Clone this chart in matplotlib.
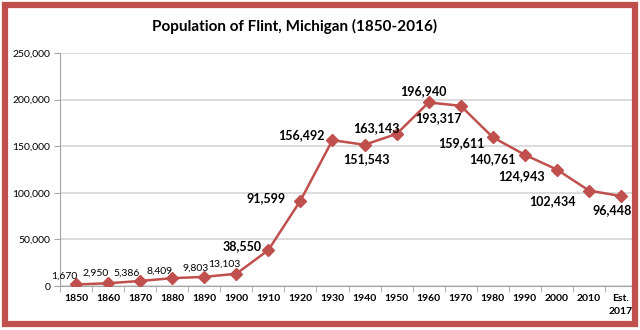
import matplotlib
matplotlib.use("Agg")
import matplotlib.pyplot as plt
from matplotlib.patches import Rectangle

# data
years = ["1850", "1860", "1870", "1880", "1890", "1900", "1910", "1920", "1930",
         "1940", "1950", "1960", "1970", "1980", "1990", "2000", "2010", "Est.\n2017"]
population = [1670, 2950, 5386, 8409, 9803, 13103, 38550, 91599, 156492,
              151543, 163143, 196940, 193317, 159611, 140761, 124943, 102434, 96448]
y_ticks = [0, 50000, 100000, 150000, 200000, 250000]

# label placement (pixel offsets from point) and style
label_offsets = [(-12, 8), (-12, 10), (-14, 8), (-13, 7), (-9, 9), (-12, 10),
                 (-26, 4), (-34, 3), (-31, 5), (2, -14), (-20, 6), (-5, 11),
                 (-22, -12), (-31, -6), (-32, -4), (-35, -7), (-36, -11), (-9, -14)]
big = [False] * 6 + [True] * 12

red = "#c0504d"
plt.rcParams["font.family"] = ["Lato", "DejaVu Sans"]

fig = plt.figure(figsize=(6.4, 3.3), dpi=100)
ax = fig.add_axes([60 / 640, 44 / 330, 577 / 640, 233 / 330])

x = list(range(len(years)))
ax.plot(x, population, color=red, lw=1.8, marker="D", markersize=6.5, zorder=3)

for xi, v, off, b in zip(x, population, label_offsets, big):
    ax.annotate(f"{v:,}", (xi, v), xytext=off, textcoords="offset pixels",
                ha="center", va="center",
                fontsize=9 if b else 7.5, fontweight="bold" if b else "normal",
                color="black", zorder=4)

ax.set_xlim(-0.5, len(years) - 0.5)
ax.set_ylim(0, 250000)
ax.set_yticks(y_ticks)
ax.set_yticklabels([f"{t:,}" for t in y_ticks], fontsize=7.5)
ax.set_xticks(x)
ax.set_xticklabels(years, fontsize=7.5, fontweight="bold", linespacing=1.5, va="top")
ax.set_xticks([i - 0.5 for i in range(len(years) + 1)], minor=True)
ax.tick_params(axis="x", which="major", length=0, pad=6)
ax.tick_params(axis="x", which="minor", length=4, color="#a6a6a6", direction="out")
ax.tick_params(axis="y", length=4, color="#a6a6a6", pad=3)

ax.grid(axis="y", color="#d9d9d9", lw=1.3)
ax.set_axisbelow(True)
for s in ["top", "right"]:
    ax.spines[s].set_visible(False)
ax.spines["left"].set_color("#a6a6a6")
ax.spines["bottom"].set_color("#a6a6a6")

fig.text(295 / 640, 1 - 26 / 330, "Population of Flint, Michigan (1850-2016)",
         ha="center", va="center", fontsize=11, fontweight="bold")

# red chart frame
fig.patches.append(Rectangle((4.5 / 640, 6.5 / 330), 630.5 / 640, 319 / 330,
                             transform=fig.transFigure, fill=False,
                             edgecolor=red, lw=4.5, zorder=10))

fig.savefig("out.png", dpi=100)
